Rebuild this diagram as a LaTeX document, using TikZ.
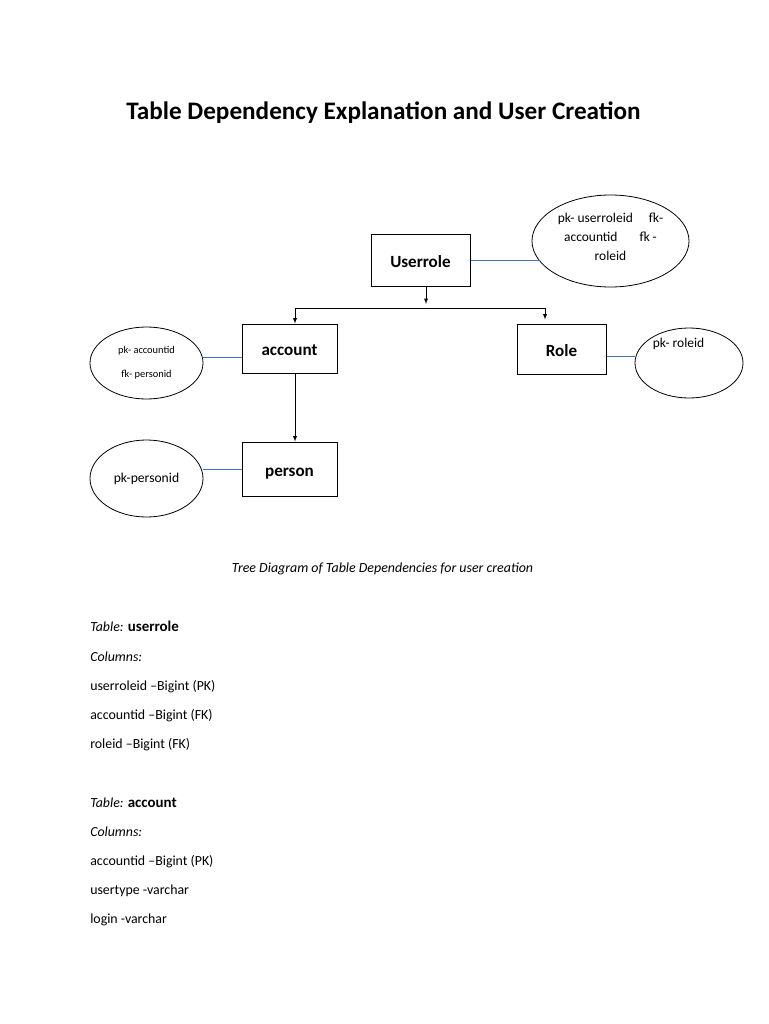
\documentclass[tikz,border=0pt]{standalone}
\usepackage{fontspec}
\setmainfont{Carlito}
\usepackage{xcolor}
\usetikzlibrary{shapes.geometric}
\definecolor{linkblue}{RGB}{68,114,196}

\begin{document}
\begin{tikzpicture}[x=0.75pt,y=-0.75pt,
		tbl/.style={draw,line width=0.75pt,inner sep=0pt,text height=12pt,text depth=1.5pt,font=\fontsize{12.8}{14}\selectfont\bfseries},
		attr/.style={draw,ellipse,line width=0.6pt,inner sep=0pt,align=center},
		link/.style={linkblue,line width=0.6pt},
		txt/.style={anchor=base west,inner sep=0pt,font=\fontsize{10.4}{13}\selectfont}]
		\useasboundingbox (0,0) rectangle (768,1024);
		\node[font=\fontsize{18.9}{22}\selectfont\bfseries] (title) at (383.5,113) {Table Dependency Explanation and User Creation};
		% tables
		\node[tbl,minimum width=74.25pt,minimum height=39pt] (userrole) at (420.5,260) {Userrole};
		\node[tbl,minimum width=71.25pt,minimum height=36.75pt] (account) at (289.5,348.5) {account};
		\node[tbl,minimum width=66.75pt,minimum height=37.5pt] (role) at (561.5,349) {Role};
		\node[tbl,minimum width=71.25pt,minimum height=40.5pt] (person) at (289.5,469) {person};
		% keys
		\node[attr,minimum width=117.75pt,minimum height=69pt] (urkeys) at (610.5,241) {};
		\node[align=center,inner sep=0pt,font=\fontsize{10.1}{14.25}\selectfont] (urtext) at (610.5,237) {pk- userroleid\hspace{12pt}fk-\\accountid\hspace{16.5pt}fk -\\roleid};
		\node[attr,minimum width=84.75pt,minimum height=54pt,font=\fontsize{7.8}{18}\selectfont] (acckeys) at (146.5,363) {pk- accountid\\fk- personid};
		\node[attr,minimum width=81pt,minimum height=52.5pt] (rolekeys) at (689,363) {};
		\node[inner sep=0pt,font=\fontsize{10.1}{12}\selectfont] (rolepk) at (678.5,344) {pk- roleid};
		\node[attr,minimum width=84.75pt,minimum height=57.75pt,font=\fontsize{10.2}{12}\selectfont] (perkeys) at (146.5,478.5) {pk-personid};
		% dependencies
		\coordinate (split) at (426,308);
		\draw[-latex,shorten >=3pt] ([xshift=4.125pt]userrole.south) -- (split);
		\draw[-latex] (split) -| ([xshift=4.125pt]account.north);
		\draw[-latex,shorten >=3pt] (split) -| ([xshift=-12.375pt]role.north);
		\draw[-latex] ([xshift=4.125pt]account.south) -- ([xshift=4.125pt]person.north);
		\coordinate (accpin) at ([yshift=-6.4pt]account.west);
		\coordinate (rolepin) at ([yshift=-5.25pt]role.east);
		\draw[link] (userrole.east) -- (userrole.east -| urkeys.196);
		\draw[link] (accpin) -- (acckeys.east |- accpin);
		\draw[link] (rolepin) -- (rolekeys.west |- rolepin);
		\draw[link] (person.west) -- (perkeys.east |- person.west);
		\node[font=\fontsize{10.45}{12}\selectfont\itshape] (caption) at (382.5,569) {Tree Diagram of Table Dependencies for user creation};
		% columns
		\node[txt] (t1) at (90,631) {\textit{Table:} {\fontsize{11.2}{14}\selectfont\bfseries userrole}};
		\node[txt] (c1) at (90,661) {\textit{Columns:}};
		\node[txt] at (90,690) {userroleid –Bigint (PK)};
		\node[txt] at (90,719) {accountid –Bigint (FK)};
		\node[txt] at (90,748) {roleid –Bigint (FK)};
		\node[txt] (t2) at (90,807) {\textit{Table:} {\fontsize{11.2}{14}\selectfont\bfseries account}};
		\node[txt] (c2) at (90,836) {\textit{Columns:}};
		\node[txt] at (90,865) {accountid –Bigint (PK)};
		\node[txt] at (90,894) {usertype -varchar};
		\node[txt] at (90,923) {login -varchar};
		\end{tikzpicture}
\end{document}
